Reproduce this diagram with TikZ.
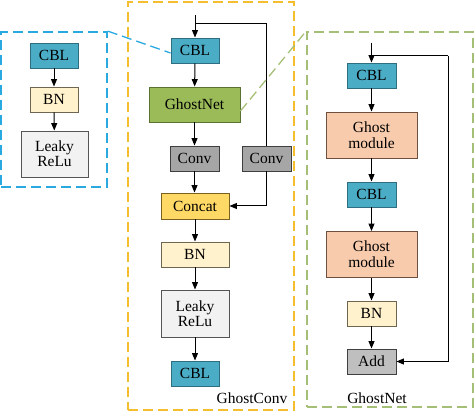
\documentclass[tikz,border=0pt]{standalone}
\usepackage{fontspec}
\setmainfont{Liberation Serif}
\usetikzlibrary{arrows.meta}
\definecolor{cblfill}{HTML}{4BACC6}
\definecolor{cbldraw}{HTML}{2E6E80}
\definecolor{bnfill}{HTML}{FFF2CC}
\definecolor{bndraw}{HTML}{6E6650}
\definecolor{lrfill}{HTML}{F2F2F2}
\definecolor{lrdraw}{HTML}{555555}
\definecolor{gnfill}{HTML}{9BBB59}
\definecolor{gndraw}{HTML}{5A7330}
\definecolor{convfill}{HTML}{A6A6A6}
\definecolor{convdraw}{HTML}{3F3F3F}
\definecolor{catfill}{HTML}{FFD966}
\definecolor{catdraw}{HTML}{7A6020}
\definecolor{gmfill}{HTML}{F8CBAD}
\definecolor{gmdraw}{HTML}{6E5040}
\definecolor{addfill}{HTML}{BFBFBF}
\definecolor{adddraw}{HTML}{3F3F3F}
\definecolor{frameblue}{HTML}{2AA8E0}
\definecolor{frameyellow}{HTML}{F5BE2E}
\definecolor{framegreen}{HTML}{A6BF76}
\tikzset{
  blk/.style={rectangle, inner sep=0pt, line width=0.9pt, font=\fontsize{15.5}{17}\selectfont, align=center, text=black},
  cbl/.style={blk, fill=cblfill, draw=cbldraw, minimum width=48pt, minimum height=25pt},
  bn/.style={blk, fill=bnfill, draw=bndraw, minimum height=25pt},
  lr/.style={blk, fill=lrfill, draw=lrdraw, minimum height=46pt},
  gnbox/.style={blk, fill=gnfill, draw=gndraw, minimum width=91pt, minimum height=35pt},
  conv/.style={blk, fill=convfill, draw=convdraw, minimum width=49pt, minimum height=25pt},
  cat/.style={blk, fill=catfill, draw=catdraw, minimum width=68pt, minimum height=26pt},
  gm/.style={blk, fill=gmfill, draw=gmdraw, minimum width=91pt, minimum height=46pt},
  addbox/.style={blk, fill=addfill, draw=adddraw, minimum width=49pt, minimum height=25pt},
  frame/.style={rectangle, inner sep=0pt, line width=1.7pt, dash pattern=on 10pt off 5pt},
  arr/.style={line width=1pt, -{Triangle[length=7.5pt,width=6pt]}},
  ln/.style={line width=1pt},
  lbl/.style={font=\fontsize{15.5}{17}\selectfont, text=black, inner sep=0pt}
}
\begin{document}
\begin{tikzpicture}[x=1pt,y=-1pt]
\useasboundingbox (0,0) rectangle (474,414);
% frames
\node[frame, draw=frameblue, minimum width=106pt, minimum height=155pt] (frL) at (54,109.5) {};
\node[frame, draw=frameyellow, minimum width=166pt, minimum height=408pt] (frM) at (211,206) {};
\node[frame, draw=framegreen, minimum width=166pt, minimum height=375pt] (frR) at (390,219.5) {};
% left
\node[cbl] (cblA) at (54,55.5) {CBL};
\node[bn, minimum width=48pt] (bnA) at (54,99.5) {BN};
\node[lr, minimum width=67pt] (lrA) at (54.5,154) {Leaky\\[-2pt]ReLu};
\draw[arr] (cblA) -- (bnA);
\draw[arr] (bnA) -- (lrA);
% middle
\coordinate (inB) at (195,15);
\coordinate (jB) at (195,24);
\node[cbl] (cblB) at (195,50.5) {CBL};
\node[gnbox] (gn) at (194.5,104.5) {GhostNet};
\node[conv] (convL) at (194.5,158.5) {Conv};
\node[conv] (convR) at (266.5,158.5) {Conv};
\node[cat] (concat) at (195,206) {Concat};
\node[bn, minimum width=68pt] (bnB) at (195,254.5) {BN};
\node[lr, minimum width=68pt, minimum height=47pt] (lrB) at (195,313.5) {Leaky\\[-2pt]ReLu};
\node[cbl] (cblC) at (195,373.5) {CBL};
\node[lbl] (labM) at (252,398) {GhostConv};
\draw[arr] (inB) -- (cblB);
\draw[ln] (jB) -| (convR.north);
\draw[arr] (convR.south) |- (concat.east);
\draw[arr] (cblB) -- (gn);
\draw[arr] (gn.south -| convL) -- (convL);
\draw[arr] (convL) -- (concat.north -| convL);
\draw[arr] (concat) -- (bnB);
\draw[arr] (bnB) -- (lrB);
\draw[arr] (lrB) -- (cblC);
% right
\coordinate (inD) at (371.5,43);
\coordinate (jD) at (371.5,56);
\coordinate (cD) at (448,56);
\node[cbl, minimum width=49pt] (cblD) at (371.5,75.5) {CBL};
\node[gm] (gm1) at (371.5,135) {Ghost\\[-1pt]module};
\node[cbl, minimum width=49pt] (cblE) at (371.5,194.5) {CBL};
\node[gm] (gm2) at (371.5,254.5) {Ghost\\[-1pt]module};
\node[bn, minimum width=49pt] (bnC) at (371.5,313.5) {BN};
\node[addbox] (add) at (371.5,361.5) {Add};
\node[lbl] (labR) at (377,398) {GhostNet};
\draw[arr] (inD) -- (cblD);
\draw[ln] (jD) -- (cD);
\draw[arr] (cD) |- (add.east);
\draw[arr] (cblD) -- (gm1);
\draw[arr] (gm1) -- (cblE);
\draw[arr] (cblE) -- (gm2);
\draw[arr] (gm2) -- (bnC);
\draw[arr] (bnC) -- (add);
% zoom connectors
\draw[frame, line width=1.3pt, draw=frameblue] (frL.north east) -- ([yshift=-2.5pt]cblB.west);
\draw[frame, line width=1.3pt, draw=framegreen] ([yshift=-6.5pt]gn.east) -- (frR.north west);
\end{tikzpicture}
\end{document}
